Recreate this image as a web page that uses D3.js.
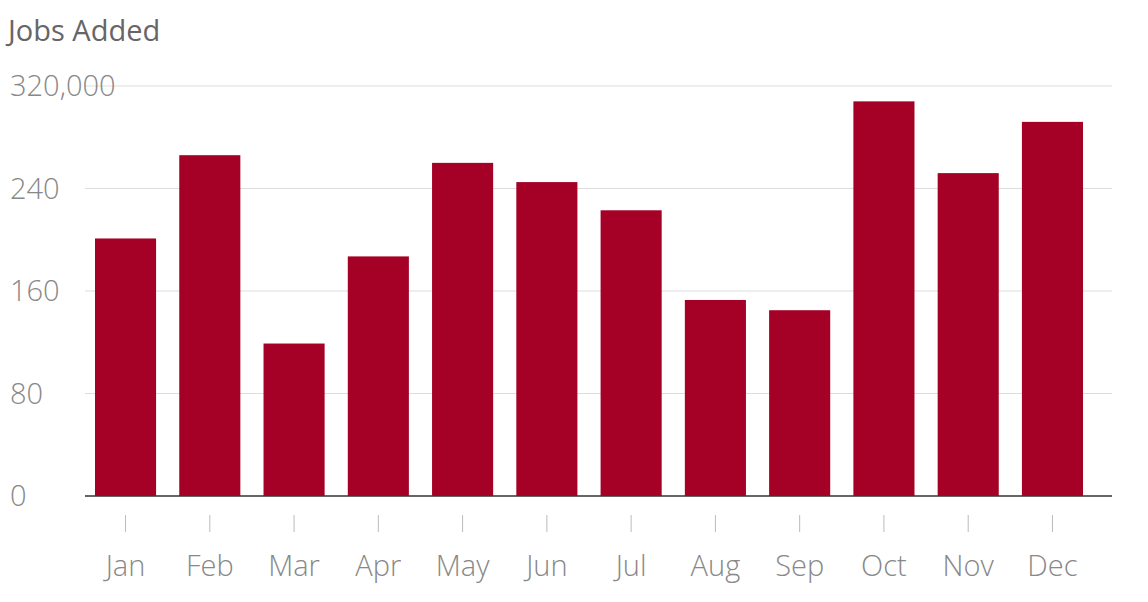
<!DOCTYPE html>
<html><head><meta charset="utf-8">
<script src="https://cdn.jsdelivr.net/npm/d3@7"></script>
<style>body{margin:0;background:#fff}text{font-family:"Open Sans",sans-serif}</style>
</head><body><svg id="c" width="1148" height="602"></svg>
<script>
const months=["Jan","Feb","Mar","Apr","May","Jun","Jul","Aug","Sep","Oct","Nov","Dec"];
const jobs=[201,266,119,187,260,245,223,153,145,308,252,292];
const yTicks=[0,80,160,240,320];
const yTickLabels=["0","80","160","240","320,000"];
const svg=d3.select("#c");
const x=d3.scaleBand().domain(months).range([83.4,1094.6]).paddingInner(0.275).paddingOuter(0.1375);
const y=d3.scaleLinear().domain([0,320]).range([496,86]);
svg.append("text").attr("x",8).attr("y",41).attr("font-size",29).attr("fill","#666").text("Jobs Added");
const g=svg.append("g");
yTicks.forEach((t,i)=>{
  g.append("line").attr("x1",85).attr("x2",1112).attr("y1",y(t)).attr("y2",y(t))
   .attr("stroke",t===0?"#333":"#ddd").attr("stroke-width",t===0?1.5:1);
  g.append("text").attr("x",10).attr("y",y(t)+10).attr("font-size",29).attr("font-weight",300).attr("fill","#888").text(yTickLabels[i]);
});
svg.selectAll("rect.b").data(jobs).join("rect").attr("class","b")
 .attr("x",(d,i)=>x(months[i])).attr("width",x.bandwidth())
 .attr("y",d=>y(d)).attr("height",d=>y(0)-y(d)).attr("fill","#a50026");
months.forEach(m=>{
  const cx=x(m)+x.bandwidth()/2;
  svg.append("line").attr("x1",cx).attr("x2",cx).attr("y1",515).attr("y2",532).attr("stroke","#bbb");
  svg.append("text").attr("x",cx).attr("y",576).attr("text-anchor","middle").attr("font-size",29).attr("font-weight",300).attr("fill","#888").text(m);
});
</script></body></html>
